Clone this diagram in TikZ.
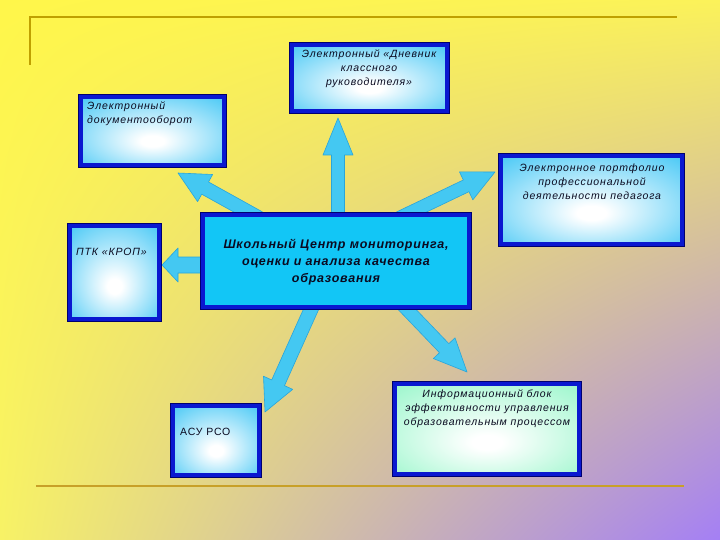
\documentclass[tikz,border=0pt]{standalone}
\usepackage{fontspec}
\setmainfont{Liberation Sans}
\newfontfamily\boxfont[LetterSpace=8]{Liberation Sans}
\newfontfamily\centfont[LetterSpace=6]{Liberation Sans}
\usetikzlibrary{calc,shadings}
\definecolor{bgUL}{HTML}{FFF64A}
\definecolor{bgUR}{HTML}{FBF25A}
\definecolor{bgLL}{HTML}{F7F266}
\definecolor{bgLR}{HTML}{A47FF5}
\definecolor{goldA}{HTML}{BFA000}
\definecolor{goldB}{HTML}{C8A028}
\definecolor{boxcyan}{HTML}{2CC0F4}
\definecolor{boxgreen}{HTML}{8CF5C4}
\definecolor{boxblue}{HTML}{0A18D0}
\definecolor{boxnavy}{HTML}{000070}
\definecolor{centcyan}{HTML}{12C6F6}
\definecolor{arrfill}{HTML}{44C8F2}
\definecolor{arrdraw}{HTML}{2AA5DA}
\definecolor{txtcol}{HTML}{0A0A20}
\pgfdeclareradialshading{glowblue}{\pgfpoint{0bp}{-8bp}}{color(0bp)=(white); color(4bp)=(white); color(42bp)=(boxcyan); color(50bp)=(boxcyan)}
\pgfdeclareradialshading{glowgreen}{\pgfpoint{0bp}{-8bp}}{color(0bp)=(white); color(4bp)=(white); color(42bp)=(boxgreen); color(50bp)=(boxgreen)}
\tikzset{
  frame/.style 2 args={rectangle, draw=boxnavy, double=boxblue, double distance=3.8pt,
    line width=0.8pt, minimum width=#1pt-5.4pt, minimum height=#2pt-5.4pt, inner sep=0pt},
  gbox/.style 2 args={frame={#1}{#2}, shading=glowblue},
  grbox/.style 2 args={frame={#1}{#2}, shading=glowgreen},
  cbox/.style 2 args={frame={#1}{#2}, fill=centcyan},
  btext/.style={text=txtcol, font=\boxfont\itshape\fontsize{10.5}{14}\selectfont, inner sep=0pt},
  ctext/.style={text=txtcol, font=\centfont\bfseries\itshape\fontsize{12.5}{17}\selectfont, inner sep=0pt, align=center},
  arrowsty/.style={fill=arrfill, draw=arrdraw, line width=0.6pt, line join=round},
  goldlineA/.style={draw=goldA, line width=2pt},
  goldlineB/.style={draw=goldB, line width=2pt},
}
\newcommand\blockarrow[5]{%
  \path ($(#2)!#5pt!(#1)$) coordinate (ba-h);
  \filldraw[arrowsty] ($(#1)!#3pt!90:(#2)$) -- ($(ba-h)!#3pt!90:(#2)$) -- ($(ba-h)!#4pt!90:(#2)$)
    -- (#2) -- ($(ba-h)!#4pt!-90:(#2)$) -- ($(ba-h)!#3pt!-90:(#2)$) -- ($(#1)!#3pt!-90:(#2)$) -- cycle;
}
\begin{document}
\begin{tikzpicture}[x=1pt,y=-1pt]
\useasboundingbox (0,0) rectangle (720,540);
\shade[upper left=bgUL, upper right=bgUR, lower left=bgLL, lower right=bgLR] (0,0) rectangle (720,540);
% decorative lines
\coordinate (ln1) at (30,65);
\coordinate (ln2) at (30,17);
\coordinate (ln3) at (677,17);
\coordinate (ln4) at (36,486);
\coordinate (ln5) at (684,486);
\draw[goldlineA] (ln1) -- (ln2) -- (ln3);
\draw[goldlineB] (ln4) -- (ln5);
% arrow end points
\coordinate (upS) at (338,225);   \coordinate (upE) at (338,118);
\coordinate (ulS) at (259,218);   \coordinate (ulE) at (178,173);
\coordinate (rtS) at (399,218);   \coordinate (rtE) at (495,172);
\coordinate (ltS) at (215,265);   \coordinate (ltE) at (162,265);
\coordinate (dlS) at (313,305);   \coordinate (dlE) at (265,412);
\coordinate (drS) at (398,300);   \coordinate (drE) at (467,372);
\blockarrow{upS}{upE}{6.5}{15}{37}
\blockarrow{ulS}{ulE}{7}{15.5}{31}
\blockarrow{rtS}{rtE}{6.5}{15.5}{32}
\blockarrow{ltS}{ltE}{8}{17}{16}
\blockarrow{dlS}{dlE}{7}{16}{32}
\blockarrow{drS}{drE}{6.5}{15}{33}
% boxes
\node[gbox={161}{72}] (top) at (369.5,78) {};
\node[gbox={149}{74}] (doc) at (152.5,131) {};
\node[gbox={187}{94}] (port) at (591.5,200) {};
\node[gbox={95}{99}] (ptk) at (114.5,272.5) {};
\node[cbox={272}{98}] (cent) at (336,261) {};
\node[gbox={92}{75}] (asu) at (216,440.5) {};
\node[grbox={190}{96}] (info) at (487,429) {};
% texts
\node[btext, align=center] (topT) at (369,69) {Электронный «Дневник\\классного\\руководителя»};
\node[btext, align=left, anchor=west] (docT) at (87,113.5) {Электронный\\документооборот};
\node[btext, align=center] (portT) at (592,182) {Электронное портфолио\\профессиональной\\деятельности педагога};
\node[btext, anchor=west] (ptkT) at (76,252) {ПТК «КРОП»};
\node[ctext] (centT) at (336,262) {Школьный Центр мониторинга,\\оценки и анализа качества\\образования};
\node[btext, font=\boxfont\fontsize{10.5}{14}\selectfont, anchor=west] (asuT) at (180,432) {АСУ РСО};
\node[btext, align=center] (infoT) at (487,409) {Информационный блок\\эффективности управления\\образовательным процессом};
\end{tikzpicture}
\end{document}
